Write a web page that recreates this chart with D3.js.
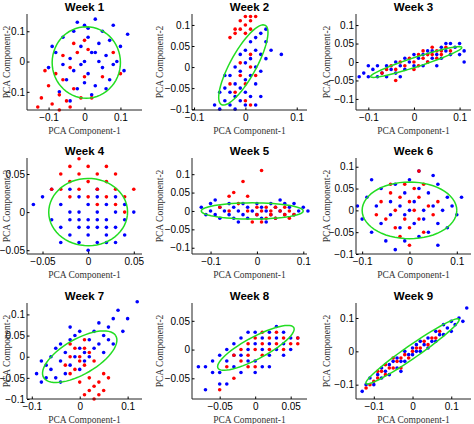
<!DOCTYPE html>
<html>
<head>
<meta charset="utf-8">
<script src="https://cdn.jsdelivr.net/npm/d3@7"></script>
<style>
  body { margin: 0; background: #fff; }
  .tick text { font-family: "Liberation Sans", Arial, sans-serif; font-size: 10px; }
  .axis-label { font-family: "Liberation Serif", "Times New Roman", serif; font-size: 9.5px; fill: #333; }
  .title { font-family: "Liberation Sans", Arial, sans-serif; font-size: 11.5px; font-weight: bold; }
</style>
</head>
<body>
<svg width="474" height="424"></svg>
<script>
// values in units of 0.01 (PCA component values x100)
const titles = ['Week 1', 'Week 2', 'Week 3', 'Week 4', 'Week 5', 'Week 6', 'Week 7', 'Week 8', 'Week 9'];

const xDomains = [[-16, 16], [-10.4, 12], [-12.7, 12.5], [-6.7, 5.9], [-14, 10.8], [-11.3, 13], [-11, 13], [-8.9, 7.3], [-14.6, 15.1]];
const yDomains = [[-16, 15.7], [-10.2, 12.6], [-13, 13], [-5.5, 7.1], [-11.7, 14.4], [-10, 12], [-10, 12.7], [-8.6, 8.1], [-14.3, 14.5]];
const xTicks = [[-10, 0, 10], [-10, 0, 10], [-10, 0, 10], [-5, 0, 5], [-10, 0, 10], [-10, 0, 10], [-10, 0, 10], [-5, 0, 5], [-10, 0, 10]];
const yTicks = [[-10, 0, 10], [-10, -5, 0, 5, 10], [-10, -5, 0, 5, 10], [-5, 0, 5], [-10, -5, 0, 5, 10], [-10, -5, 0, 5, 10], [-10, -5, 0, 5, 10], [-5, 0, 5], [-10, 0, 10]];

// ellipse: center, half-axis a, half-axis b
const ellipses = [
  [[0.5, -0.3], [9.5, 0], [0, 11.8]],
  [[-0.4, 0.5], [4.1, 9.5], [2.5, -0.8]],
  [[0.5, 0], [10, 4], [0.4, -1.2]],
  [[0, 0], [4.3, -0.4], [0.4, 4.4]],
  [[-1, 0], [11, 0], [0, 2.2]],
  [[0, 0], [10, 0], [0, 6.5]],
  [[0, 0], [7.5, 5], [-2, 3.5]],
  [[0.1, 0.3], [5.3, 3.6], [-1, 1.5]],
  [[0, 0], [12, 9.7], [-1.2, 1.4]]
];

const blue = [
  [[-10,-2],[-8,3],[-6,8],[-5,-6],[-4,1],[-3,10],[-2,-9],[-1,5],[0,0],[0,12],[1,-4],[1,8],[2,3],[3,-8],[3,14],[4,6],[5,-2],[5,10],[6,2],[7,-6],[7,7],[8,12],[9,0],[10,5],[-7,-10],[-4,-13],[-2,13],[2,-11],[4,0],[6,-9],[-9,5],[11,-3],[12,9],[-1,-1],[3,3],[-3,-3],[1,11],[-6,-1],[8,-1],[0,-7]],
  [[-5,-10],[-4,-8],[-4,-5],[-3,-9],[-3,-6],[-3,-2],[-2,-10],[-2,-7],[-2,-4],[-2,0],[-1,-8],[-1,-5],[-1,-1],[-1,3],[0,-9],[0,-6],[0,-3],[0,1],[0,4],[1,-7],[1,-2],[1,2],[1,6],[2,-4],[2,0],[2,4],[2,7],[3,-1],[3,3],[3,8],[4,2],[4,6],[4,9],[-5,-6],[-6,-9],[5,4],[7,3],[-4,-2],[2,-9],[3,-7]],
  [[-12,-4],[-11,-3],[-10,-4],[-9,-2],[-8,-4],[-8,-1],[-7,-3],[-6,-1],[-6,-4],[-5,-2],[-4,0],[-4,-3],[-3,-1],[-2,1],[-2,-2],[-1,0],[0,2],[0,-1],[1,1],[2,-1],[2,2],[3,0],[4,3],[4,1],[5,2],[6,4],[6,1],[7,3],[8,5],[8,2],[9,4],[10,5],[10,2],[11,3],[-10,-1],[-3,-4],[3,3],[5,-1],[7,5],[11,0]],
  [[-5,2],[-4,-1],[-4,3],[-3,-2],[-3,1],[-2,-3],[-2,0],[-2,3],[-1,-4],[-1,-1],[-1,2],[0,-3],[0,-1],[0,1],[1,-4],[1,-2],[1,0],[1,2],[2,-3],[2,-1],[2,1],[3,-2],[3,0],[3,2],[4,-1],[4,1],[-3,-4],[0,-5],[2,-4],[-1,-2],[1,-1],[0,-2],[5,0],[-6,1],[3,-4],[-2,-1],[2,-2],[4,-3],[-1,0],[1,3]],
  [[-12,1],[-11,-1],[-10,2],[-10,0],[-9,-1],[-8,1],[-8,-2],[-7,0],[-6,2],[-6,-1],[-5,1],[-5,-2],[-4,0],[-3,2],[-3,-1],[-2,1],[-2,-2],[-1,0],[0,2],[0,-1],[1,1],[1,-2],[2,0],[3,2],[3,-1],[4,1],[4,-2],[5,0],[6,2],[6,-1],[7,1],[8,-1],[8,2],[9,0],[10,1],[-9,3],[2,-3],[5,3],[-4,-3],[11,0]],
  [[-10,-2],[-9,3],[-8,-5],[-7,1],[-6,5],[-6,-3],[-5,-7],[-4,2],[-4,-1],[-3,6],[-2,-4],[-2,1],[-1,-7],[-1,4],[0,0],[0,7],[1,-3],[1,2],[2,-6],[2,5],[3,0],[3,-2],[4,4],[4,-5],[5,1],[6,-3],[6,6],[7,0],[8,3],[8,-4],[9,1],[10,-1],[-11,1],[-3,-9],[2,9],[11,3],[-8,7],[6,-8],[5,8],[-1,-1]],
  [[-9,-4],[-8,-6],[-7,-2],[-7,-5],[-6,0],[-6,-3],[-5,-5],[-5,2],[-4,-1],[-4,3],[-3,-4],[-3,1],[-2,4],[-2,-2],[-1,0],[-1,5],[0,-3],[0,2],[0,6],[1,1],[1,-1],[2,4],[2,0],[3,6],[3,2],[4,3],[4,8],[5,5],[5,1],[6,7],[6,4],[7,9],[7,3],[8,11],[9,6],[-8,-1],[-4,-6],[10,9],[12,13],[-2,7]],
  [[-8,-3],[-7,-3],[-6,-4],[-6,-2],[-5,-1],[-5,-4],[-4,-2],[-4,0],[-3,-3],[-3,1],[-2,-1],[-2,2],[-1,0],[-1,-2],[0,1],[0,3],[0,-2],[1,0],[1,2],[2,1],[2,3],[2,-1],[3,2],[3,0],[3,4],[4,1],[4,3],[5,2],[5,0],[-2,-4],[-4,-6],[-7,-7],[1,-3],[-1,3],[6,2],[-3,-1],[0,-4],[2,-3],[4,-1],[-5,-6]],
  [[-13,-12],[-12,-10],[-11,-8],[-10,-10],[-9,-7],[-8,-5],[-8,-8],[-7,-6],[-6,-4],[-6,-7],[-5,-3],[-4,-5],[-4,-2],[-3,-3],[-2,0],[-2,-3],[-1,-1],[0,1],[0,-1],[1,0],[1,2],[2,3],[2,0],[3,2],[4,4],[4,1],[5,3],[6,6],[6,3],[7,5],[8,8],[8,5],[9,7],[10,9],[10,6],[11,8],[12,10],[13,9],[14,13],[-3,-6]]
];

const red = [
  [[-12,-12],[-10,-8],[-9,-14],[-8,-4],[-7,-11],[-6,-6],[-5,-13],[-4,-2],[-3,-9],[-2,3],[-1,-12],[0,-5],[1,4],[2,-12],[-11,-3],[-6,2],[-3,6],[5,-5],[8,3],[-13,-15],[-7,-16],[-4,-15],[10,-4],[0,7]],
  [[-1,9],[0,10],[0,12],[1,11],[1,9],[-2,8],[2,12],[0,8],[-1,11],[1,12],[-3,7],[-2,9],[0,-4],[-1,-2],[1,0],[-2,-6],[0,-8],[1,3],[-1,1],[2,-2],[-3,-4],[1,-9]],
  [[-7,-3],[-6,-2],[-5,-1],[-4,-2],[-3,0],[-2,-1],[-1,1],[0,0],[1,2],[1,-1],[2,1],[3,2],[3,0],[4,2],[5,3],[5,1],[6,3],[7,4],[6,2],[2,3],[0,-2],[-4,-5],[8,3],[4,4]],
  [[-3,3],[-2,4],[-2,6],[-1,5],[-1,3],[0,4],[0,6],[1,5],[1,3],[2,4],[2,2],[3,3],[3,5],[4,2],[5,3],[-4,3],[-3,5],[-1,7],[0,2],[2,6],[4,0],[-2,2],[1,1],[3,1]],
  [[-8,1],[-6,0],[-4,2],[-2,0],[0,1],[0,-1],[1,0],[2,1],[2,-2],[3,0],[3,-1],[4,1],[4,-2],[5,0],[6,-1],[6,1],[7,0],[7,-2],[8,-1],[1,-3],[-5,5],[-2,4],[1,11],[-3,8],[-6,4],[-1,-3]],
  [[-6,2],[-5,-2],[-4,4],[-3,0],[-3,-4],[-2,3],[-1,-2],[-1,6],[0,2],[0,-4],[1,0],[1,5],[2,-2],[2,3],[3,-5],[3,6],[4,1],[5,-1],[-7,-1],[-2,-6],[2,9],[0,-8],[6,2],[-4,6]],
  [[-3,-2],[-2,0],[-1,-3],[-1,2],[0,0],[0,-1],[1,2],[1,-2],[2,1],[-2,-4],[3,-1],[2,-5],[3,-7],[4,-6],[5,-8],[1,-9],[3,-10],[5,-4],[6,-5],[2,-8],[4,-9],[0,-6],[-2,3],[1,4]],
  [[-4,-3],[-3,-1],[-2,-2],[-2,0],[-1,-1],[-1,1],[0,0],[0,2],[1,1],[1,-1],[2,2],[2,0],[3,1],[3,3],[4,2],[5,1],[6,1],[6,2],[-3,-5],[-5,-7],[-1,-3],[1,3],[0,-3],[4,0]],
  [[-11,-10],[-10,-9],[-9,-8],[-8,-6],[-7,-7],[-7,-4],[-6,-5],[-5,-5],[-5,-2],[-4,-3],[-3,-2],[-3,-5],[-2,-1],[-1,-2],[0,0],[1,1],[2,1],[3,3],[4,2],[5,4],[6,4],[7,6],[-12,-11],[-9,-6]]
];

const svg = d3.select('svg');
const colLeft = [27, 192, 356];
const rowTop = [14, 158, 303];
const pw = 115, ph = 96;
const yLabelOffset = [-20, -32, -29];
const fmt = v => v === 0 ? '0' : d3.format('')(+(v / 100).toFixed(2));

titles.forEach((title, i) => {
  const col = i % 3, row = Math.floor(i / 3);
  const g = svg.append('g').attr('transform', `translate(${colLeft[col]},${rowTop[row]})`);

  const x = d3.scaleLinear().domain(xDomains[i]).range([0, pw]);
  const y = d3.scaleLinear().domain(yDomains[i]).range([ph, 0]);

  const pts = g.append('g');
  pts.selectAll('circle.b').data(blue[i]).enter().append('circle')
    .attr('cx', d => x(d[0])).attr('cy', d => y(d[1])).attr('r', 1.8).attr('fill', '#0000ff');
  pts.selectAll('circle.r').data(red[i]).enter().append('circle')
    .attr('cx', d => x(d[0])).attr('cy', d => y(d[1])).attr('r', 1.8).attr('fill', '#ff0000');

  const [c, a, b] = ellipses[i];
  const ring = d3.range(0, 361, 6).map(t => {
    const r = t * Math.PI / 180;
    return [c[0] + a[0] * Math.cos(r) + b[0] * Math.sin(r), c[1] + a[1] * Math.cos(r) + b[1] * Math.sin(r)];
  });
  g.append('path').datum(ring)
    .attr('d', d3.line().x(d => x(d[0])).y(d => y(d[1])))
    .attr('fill', 'none').attr('stroke', '#22dd22').attr('stroke-width', 1.5);

  const xAxisG = g.append('g').attr('transform', `translate(0,${ph})`)
    .call(d3.axisBottom(x).tickValues(xTicks[i]).tickFormat(fmt).tickSize(-2.5).tickPadding(4));
  const yAxisG = g.append('g')
    .call(d3.axisLeft(y).tickValues(yTicks[i]).tickFormat(fmt).tickSize(-2.5).tickPadding(2));
  xAxisG.select('.domain').attr('d', `M0,0H${pw}`).attr('stroke', '#222');
  yAxisG.select('.domain').attr('d', `M0,0V${ph}`).attr('stroke', '#222');

  g.append('text').attr('class', 'axis-label')
    .attr('x', pw / 2).attr('y', ph + 24).attr('text-anchor', 'middle')
    .text('PCA Component-1');
  g.append('text').attr('class', 'axis-label')
    .attr('transform', `translate(${yLabelOffset[col]},${ph / 2}) rotate(-90)`)
    .attr('text-anchor', 'middle').attr('dy', '0.35em')
    .text('PCA Component-2');
  g.append('text').attr('class', 'title')
    .attr('x', pw / 2).attr('y', -3).attr('text-anchor', 'middle')
    .text(title);
});
</script>
</body>
</html>
